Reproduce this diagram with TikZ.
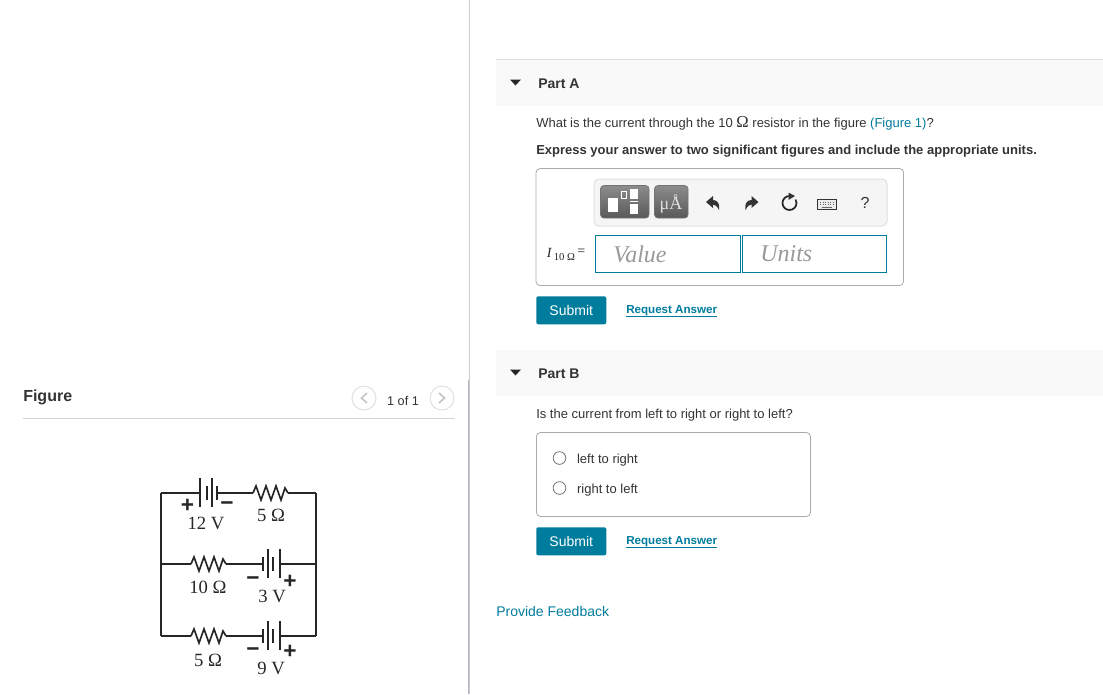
\documentclass[tikz,border=0pt]{standalone}
\usepackage{fontspec}
\setmainfont{Liberation Sans}
\newfontfamily\timesfont{Liberation Serif}
\usetikzlibrary{positioning}
\definecolor{teal}{HTML}{007C9C}
\definecolor{ink}{HTML}{333333}
\definecolor{band}{HTML}{F9F9F9}
\definecolor{rule}{HTML}{E0E0E0}
\definecolor{frameline}{HTML}{AAAAAA}
\tikzset{
    wire/.style={
        draw=black!85,
        line width=1.25pt
    },
    uitext/.style={
        text=ink,
        inner sep=0pt,
        anchor=west,
        font=\fontsize{9.75}{12}\selectfont
    },
    boldtext/.style={
        uitext,
        font=\fontsize{9.75}{12}\selectfont\bfseries
    },
    circuitlabel/.style={
        text=black!85,
        inner sep=0pt,
        font=\fontsize{14}{15}\selectfont\timesfont
    },
    polarity/.style={
        text=black!85,
        inner sep=0pt,
        font=\fontsize{17}{18}\selectfont\bfseries
    },
    framebox/.style={
        draw=frameline,
        fill=white,
        line width=0.6pt,
        rounded corners=3pt
    },
    inputbox/.style={
        draw=teal,
        line width=0.75pt,
        fill=white
    },
    submitbtn/.style={
        fill=teal,
        rounded corners=1.5pt,
        text=white,
        inner sep=0pt,
        minimum width=52.5pt,
        minimum height=21pt,
        font=\fontsize{10.5}{12}\selectfont
    },
    linktext/.style={
        text=teal,
        inner sep=0pt,
        font=\fontsize{8.7}{10}\selectfont\bfseries
    },
    linkline/.style={
        draw=teal,
        line width=0.75pt
    },
    ghosttext/.style={
        text=black!40,
        inner sep=0pt,
        anchor=west,
        font=\fontsize{18}{20}\selectfont\timesfont\itshape
    },
    toolbtn/.style={
        draw=black!55,
        line width=0.5pt,
        top color=black!45,
        bottom color=black!65,
        rounded corners=2.5pt
    },
    pagebtn/.style={
        circle,
        draw=rule,
        line width=0.75pt,
        minimum size=18pt,
        inner sep=0pt
    },
    radio/.style={
        circle,
        draw=black!55,
        line width=0.6pt,
        minimum size=9.5pt,
        inner sep=0pt
    },
    iconfill/.style={
        fill=black!80
    },
    battery/.pic={
        \coordinate (-a) at (0,0);
        \coordinate (-b) at (17,0);
        \draw[wire] (0,-15) -- (0,14);
        \draw[wire] (7,-7) -- (7,7);
        \draw[wire] (12,-15) -- (12,14);
        \draw[wire] (17,-7) -- (17,7);
    },
    zigzag/.pic={
        \coordinate (-a) at (0,0);
        \coordinate (-b) at (35,0);
        \draw[wire] (0,0) -- (3,-7) -- (8,7) -- (13,-7) -- (18,7) -- (23,-7) -- (28,7) -- (32,-5) -- (35,0);
    }
}
\begin{document}
\begin{tikzpicture}[x=0.75pt,y=-0.75pt]
\useasboundingbox (0,0) rectangle (1103,694);

% Column divider
\draw[draw=black!20,line width=0.75pt] (469,0) -- (469,694);
\draw[draw=blue!30!black!30,line width=0.75pt] (468,380) -- (468,694);

% Figure header
\node[boldtext,font=\fontsize{12}{14}\selectfont\bfseries] (figtitle) at (23,397) {Figure};
\draw[draw=black!17,line width=0.75pt] (23,418.5) -- (455,418.5);
\node[pagebtn] (prevbtn) at (364,398) {};
\node[pagebtn] (nextbtn) at (442,398) {};
\draw[draw=black!22,line width=1.3pt] (367,393) -- (361.5,398) -- (367,403);
\draw[draw=black!22,line width=1.3pt] (439,393) -- (444.5,398) -- (439,403);
\node[uitext,anchor=center,font=\fontsize{9.5}{11}\selectfont] (pagecount) at (403,400.5) {1 of 1};

% Circuit corners
\coordinate (tl) at (161,493);
\coordinate (tr) at (316,493);
\coordinate (ml) at (161,564);
\coordinate (mr) at (316,564);
\coordinate (bl) at (161,636);
\coordinate (br) at (316,636);

% Top branch
\pic (batt12) at (200,493) {battery};
\pic (res5a) at (253,493) {zigzag};
\draw[wire] (tl) -- (batt12-a);
\draw[wire] (batt12-b) -- (res5a-a);
\draw[wire] (res5a-b) -- (tr);

% Middle branch
\pic (res10) at (191,564) {zigzag};
\pic[xscale=-1] (batt3) at (280,564) {battery};
\draw[wire] (ml) -- (res10-a);
\draw[wire] (res10-b) -- (batt3-b);
\draw[wire] (batt3-a) -- (mr);

% Bottom branch
\pic (res5b) at (191,636) {zigzag};
\pic[xscale=-1] (batt9) at (280,636) {battery};
\draw[wire] (bl) -- (res5b-a);
\draw[wire] (res5b-b) -- (batt9-b);
\draw[wire] (batt9-a) -- (br);

% Outer sides
\draw[wire] (tl) -- (ml) -- (bl);
\draw[wire] (tr) -- (mr) -- (br);

% Circuit labels
\node[polarity] (plus12) at (187.5,506) {+};
\node[polarity] (minus12) at (227,506) {−};
\node[circuitlabel] (lab12) at (206,523) {12 V};
\node[circuitlabel] (lab5a) at (271,515) {5 Ω};
\node[circuitlabel] (lab10) at (208,587) {10 Ω};
\node[polarity] (minus3) at (253,581) {−};
\node[polarity] (plus3) at (290,582) {+};
\node[circuitlabel] (lab3) at (272,596) {3 V};
\node[circuitlabel] (lab5b) at (208,660) {5 Ω};
\node[polarity] (minus9) at (253,652) {−};
\node[polarity] (plus9) at (290,652) {+};
\node[circuitlabel] (lab9) at (271,668) {9 V};

% Part A
\fill[band] (496,60) rectangle (1103,106);
\draw[draw=rule,line width=0.75pt] (496,59.5) -- (1103,59.5);
\fill[black!85] (510,79.5) -- (521,79.5) -- (515.5,85.5) -- cycle;
\node[boldtext,font=\fontsize{10.5}{12}\selectfont\bfseries] (partA) at (538,83.5) {Part A};
\node[uitext] (question) at (536,123.5) {What is the current through the 10 {\timesfont\fontsize{12.5}{14}\selectfont Ω} resistor in the figure \textcolor{teal}{(Figure 1)}?};
\node[boldtext] (express) at (536,151.5) {Express your answer to two significant figures and include the appropriate units.};

% Answer box
\draw[framebox] (536,168.5) rectangle (903.5,285.5);
\draw[draw=rule,fill=black!4,line width=0.75pt,rounded corners=3.5pt] (594,179) rectangle (887,226);
\draw[toolbtn] (600.5,185.5) rectangle (649,218);
\draw[toolbtn] (654.5,185.5) rectangle (688,218);

% Template icon
\fill[white] (608,198) rectangle (618,212);
\draw[white,line width=0.6pt] (621,191) rectangle (626,198);
\fill[white] (630,189) rectangle (638,199);
\fill[white] (630,201) rectangle (638,202);
\fill[white] (630,204) rectangle (638,214);
\node[text=black!12,inner sep=0pt,font=\fontsize{13.5}{14}\selectfont\timesfont] (unitsbtn) at (671,204) {μÅ};

% Undo and redo
\fill[iconfill] (706,202) -- (713,196) -- (713,200) .. controls (718,200) and (720,204) .. (719,210) .. controls (717,206) and (715,204.5) .. (713,204.5) -- (713,208) -- cycle;
\fill[iconfill] (758.5,202) -- (751.5,196) -- (751.5,200) .. controls (746.5,200) and (744.5,204) .. (745.5,210) .. controls (747.5,206) and (749.5,204.5) .. (751.5,204.5) -- (751.5,208) -- cycle;

% Reset icon
\draw[draw=black!85,line width=1.3pt] (789.5,196) arc[start angle=-90,end angle=-390,radius=7];
\fill[iconfill] (788.5,192.5) -- (795,196) -- (788.5,200) -- cycle;

% Keyboard icon
\draw[draw=black!80,fill=black!8,line width=1pt] (817.5,199.5) rectangle (836.5,209.5);
\foreach \kx in {820,822.5,...,834.5} {
    \fill[black!60] (\kx,201.5) rectangle ++(1.3,1.3);
    \fill[black!60] (\kx,204) rectangle ++(1.3,1.3);
}
\fill[black!60] (822,206.5) rectangle (832,207.7);
\node[uitext,anchor=center,font=\fontsize{12}{14}\selectfont] (helpbtn) at (865,202.5) {?};

% Answer inputs
\node[inner sep=0pt,text=black!85,font=\fontsize{10.5}{11}\selectfont\timesfont] (answerlab) at (566,254.5) {\textit{I}\raisebox{-2.5pt}{\fontsize{8}{9}\selectfont\,10 Ω}\,\raisebox{1.5pt}{=}};
\draw[inputbox] (595.5,235.5) rectangle (740,272);
\draw[inputbox] (742.5,235.5) rectangle (886.5,272);
\node[ghosttext] (valuetxt) at (613,254) {Value};
\node[ghosttext] (unitstxt) at (760,254) {Units};

\node[submitbtn,anchor=north west] (submitA) at (536,296) {Submit};
\node[linktext,anchor=west] (requestA) at (626,311) {Request Answer};
\draw[linkline] (requestA.south west) -- (requestA.south east);

% Part B
\fill[band] (496,350) rectangle (1103,396);
\fill[black!85] (510,369.5) -- (521,369.5) -- (515.5,375.5) -- cycle;
\node[boldtext,font=\fontsize{10.5}{12}\selectfont\bfseries] (partB) at (538,373.5) {Part B};
\node[uitext] (questionB) at (536,415.5) {Is the current from left to right or right to left?};

\draw[framebox] (536.5,432.5) rectangle (810.5,516.5);
\node[radio] (radioA) at (559.5,458) {};
\node[radio] (radioB) at (559.5,488) {};
\node[uitext,right=13pt of radioA.center,anchor=west,yshift=-1.5pt] (optionA) {left to right};
\node[uitext,right=13pt of radioB.center,anchor=west,yshift=-1.5pt] (optionB) {right to left};

\node[submitbtn,anchor=north west] (submitB) at (536,527) {Submit};
\node[linktext,anchor=west] (requestB) at (626,542) {Request Answer};
\draw[linkline] (requestB.south west) -- (requestB.south east);

\node[uitext,text=teal,font=\fontsize{10.5}{13}\selectfont] (feedback) at (496,611) {Provide Feedback};

\end{tikzpicture}
\end{document}
